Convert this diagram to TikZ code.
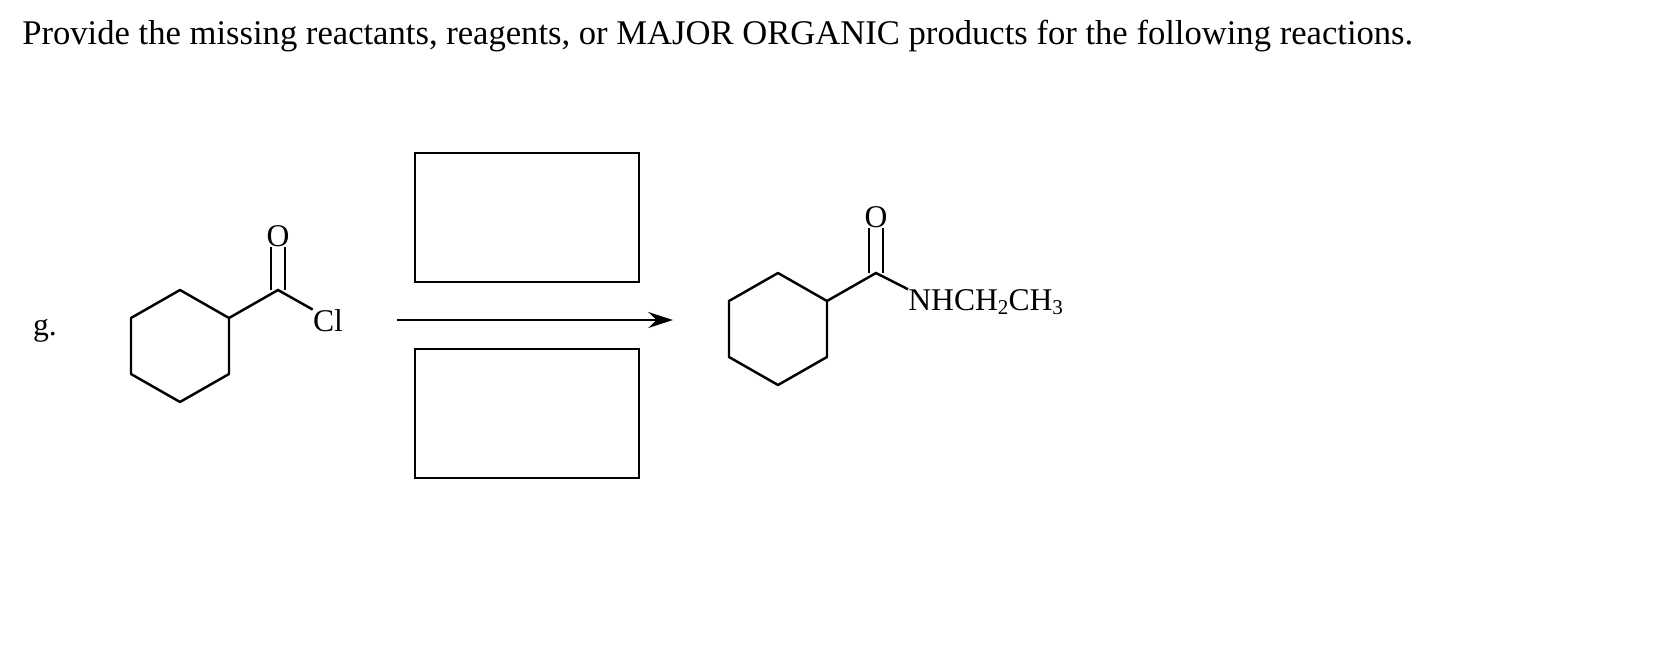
\documentclass[tikz,border=0pt]{standalone}
\usepackage{fontspec}
\setmainfont{Liberation Serif}
\usetikzlibrary{arrows.meta}
\newcommand{\lowsub}[1]{\raisebox{-0.25ex}{\fontsize{12}{14}\selectfont #1}}
\begin{document}
\begin{tikzpicture}[x=0.02cm,y=-0.02cm,
  bond/.style={line width=1.4pt},
  lbl/.style={inner sep=0pt,font=\fontsize{18}{21}\selectfont},
  ansbox/.style={draw,line width=1.4pt}]
\useasboundingbox (0,0) rectangle (1658,650);
\node[anchor=base west,inner sep=0pt,font=\fontsize{19.7}{23}\selectfont] (title) at (22,44) {Provide the missing reactants, reagents, or MAJOR ORGANIC products for the following reactions.};
\node[lbl] (g) at (45,331) {g.};
% left molecule
\coordinate (a1) at (180,290); \coordinate (a2) at (229,318); \coordinate (a3) at (229,374);
\coordinate (a4) at (180,402); \coordinate (a5) at (131,374); \coordinate (a6) at (131,318);
\draw[bond,line join=round] (a1)--(a2)--(a3)--(a4)--(a5)--(a6)--cycle;
\coordinate (c1) at (278,290);
\node[lbl] (o1) at (278,236) {O};
\node[lbl] (cl) at (328,321) {Cl};
\draw[bond] (a2)--(c1)--(cl.north west);
\draw[bond] ([xshift=-4]c1) -- ([xshift=-4]o1.south);
\draw[bond] ([xshift=4]c1) -- ([xshift=4]o1.south);
% arrow and boxes
\coordinate (arS) at (397,320); \coordinate (arE) at (673,320);
\draw[line width=1.4pt,-{Stealth[length=14pt,width=9pt]}] (arS)--(arE);
\node[ansbox,minimum width=4.48cm,minimum height=2.58cm] (box1) at (527,217.5) {};
\node[ansbox,minimum width=4.48cm,minimum height=2.58cm] (box2) at (527,413.5) {};
% right molecule
\coordinate (b1) at (778,273); \coordinate (b2) at (827,301); \coordinate (b3) at (827,357);
\coordinate (b4) at (778,385); \coordinate (b5) at (729,357); \coordinate (b6) at (729,301);
\draw[bond,line join=round] (b1)--(b2)--(b3)--(b4)--(b5)--(b6)--cycle;
\coordinate (c2) at (876,273);
\node[lbl] (o2) at (876,217) {O};
\node[lbl,anchor=west] (nh) at (908,302) {NHCH\lowsub{2}CH\lowsub{3}};
\draw[bond] (b2)--(c2)--(nh.north west);
\draw[bond] ([xshift=-4]c2) -- ([xshift=-4]o2.south);
\draw[bond] ([xshift=4]c2) -- ([xshift=4]o2.south);
\end{tikzpicture}
\end{document}
